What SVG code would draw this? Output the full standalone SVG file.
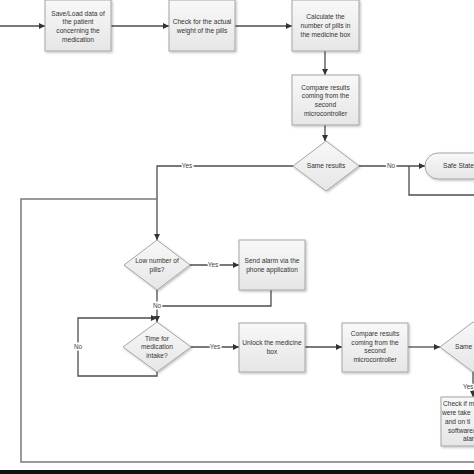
<svg xmlns="http://www.w3.org/2000/svg" width="474" height="474" viewBox="0 0 474 474">
<style>
.box{fill:url(#g);stroke:#a6a6a6;stroke-width:1;filter:url(#sh)}
.t{font-family:"Liberation Sans",Arial,sans-serif;font-size:6.6px;fill:#333;text-anchor:middle}
.ts{font-family:"Liberation Sans",Arial,sans-serif;font-size:6.6px;fill:#333}
.c{fill:none;stroke:#4d4d4d;stroke-width:1.3}
.cg{fill:none;stroke:#7a7a7a;stroke-width:1.5}
.a{marker-end:url(#ar)}
.lb{font-family:"Liberation Sans",Arial,sans-serif;font-size:6.4px;fill:#444;text-anchor:middle;stroke:#fff;stroke-width:3;paint-order:stroke}
</style>
<defs>
<linearGradient id="g" x1="0" y1="0" x2="0" y2="1">
<stop offset="0" stop-color="#f8f8f8"/>
<stop offset="1" stop-color="#e6e6e6"/>
</linearGradient>
<filter id="sh" x="-10%" y="-10%" width="130%" height="130%">
<feDropShadow dx="1.2" dy="1.2" stdDeviation="0.8" flood-color="#000" flood-opacity="0.25"/>
</filter>
<marker id="ar" viewBox="0 0 10 10" refX="10" refY="5" markerWidth="6" markerHeight="6" markerUnits="userSpaceOnUse" orient="auto">
<path d="M0,0 L10,5 L0,10 z" fill="#333"/>
</marker>
</defs>
<rect width="474" height="474" fill="#fff"/>

<g id="connectors">
<path class="c a" d="M0,26 H45"/>
<path class="c a" d="M111,26 H169"/>
<path class="c a" d="M235,26 H292"/>
<path class="c a" d="M325,51 V75"/>
<path class="c a" d="M325,125 V141"/>
<path class="c a" d="M359,166 H425"/>
<path class="c" d="M474,195 H409 V166"/>
<path class="c a" d="M293,166 H157 V240"/>
<path class="cg" d="M474,462 H21 V199 H157"/>
<path class="c a" d="M189,265 H239"/>
<path class="c a" d="M157,289 V322"/>
<path class="c" d="M271,290 V306 H157"/>
<path class="c a" d="M157,372 V376 H78 V318 H157"/>
<path class="c a" d="M191,347 H239"/>
<path class="c a" d="M305,347 H342"/>
<path class="c a" d="M408,347 H440"/>
<path class="c a" d="M473,372 V397"/>
<text class="lb" x="391" y="168">No</text>
<text class="lb" x="187" y="168">Yes</text>
<text class="lb" x="213" y="267">Yes</text>
<text class="lb" x="157" y="308">No</text>
<text class="lb" x="78" y="349">No</text>
<text class="lb" x="215" y="349">Yes</text>
<text class="lb" x="473.5" y="389" style="text-anchor:end">Yes</text>
</g>

<g id="n1">
<rect class="box" x="45" y="0" width="66" height="51"/>
<text class="t" x="78" y="15.5">Save/Load data of</text>
<text class="t" x="78" y="24.2">the patient</text>
<text class="t" x="78" y="32.9">concerning the</text>
<text class="t" x="78" y="41.6">medication</text>
</g>
<g id="n2">
<rect class="box" x="169" y="0" width="66" height="51"/>
<text class="t" x="202" y="24">Check for the actual</text>
<text class="t" x="202" y="32.7">weight of the pills</text>
</g>
<g id="n3">
<rect class="box" x="292" y="0" width="67" height="51"/>
<text class="t" x="325.5" y="19.3">Calculate the</text>
<text class="t" x="325.5" y="28">number of pills in</text>
<text class="t" x="325.5" y="36.7">the medicine box</text>
</g>
<g id="n4">
<rect class="box" x="292" y="75" width="67" height="50"/>
<text class="t" x="325.5" y="89.5">Compare results</text>
<text class="t" x="325.5" y="98.2">coming from the</text>
<text class="t" x="325.5" y="106.9">second</text>
<text class="t" x="325.5" y="115.6">microcontroller</text>
</g>
<g id="d1">
<path class="box" d="M326,141 L359,166 L326,191 L293,166 z"/>
<text class="t" x="326" y="168.4">Same results</text>
</g>
<g id="safe">
<rect class="box" x="425" y="153" width="90" height="26" rx="13"/>
<text class="ts" x="443" y="168.4">Safe State</text>
</g>
<g id="d2">
<path class="box" d="M157,240 L190,265 L157,290 L124,265 z"/>
<text class="t" x="157" y="263">Low number of</text>
<text class="t" x="157" y="271.7">pills?</text>
</g>
<g id="n5">
<rect class="box" x="239" y="240" width="66" height="50"/>
<text class="t" x="272" y="263">Send alarm via the</text>
<text class="t" x="272" y="271.7">phone application</text>
</g>
<g id="d3">
<path class="box" d="M157,322 L191,347 L157,372 L123,347 z"/>
<text class="t" x="157" y="340.5">Time for</text>
<text class="t" x="157" y="349.2">medication</text>
<text class="t" x="157" y="357.9">intake?</text>
</g>
<g id="n6">
<rect class="box" x="239" y="323" width="66" height="49"/>
<text class="t" x="272" y="345">Unlock the medicine</text>
<text class="t" x="272" y="353.7">box</text>
</g>
<g id="n7">
<rect class="box" x="342" y="323" width="66" height="49"/>
<text class="t" x="375" y="336">Compare results</text>
<text class="t" x="375" y="344.7">coming from the</text>
<text class="t" x="375" y="353.4">second</text>
<text class="t" x="375" y="362.1">microcontroller</text>
</g>
<g id="d4">
<path class="box" d="M473,322 L506,347 L473,372 L440,347 z"/>
<text class="ts" x="455" y="349.4">Same</text>
</g>
<g id="n8">
<rect class="box" x="441" y="397" width="70" height="49"/>
<text class="ts" x="443" y="406.4">Check if m</text>
<text class="ts" x="442" y="415.1">were take</text>
<text class="ts" x="445" y="423.8">and on ti</text>
<text class="ts" x="448" y="432.5">software/</text>
<text class="ts" x="463" y="441.2">alar</text>
</g>

<rect x="0" y="470" width="474" height="4" fill="#111"/>
</svg>
